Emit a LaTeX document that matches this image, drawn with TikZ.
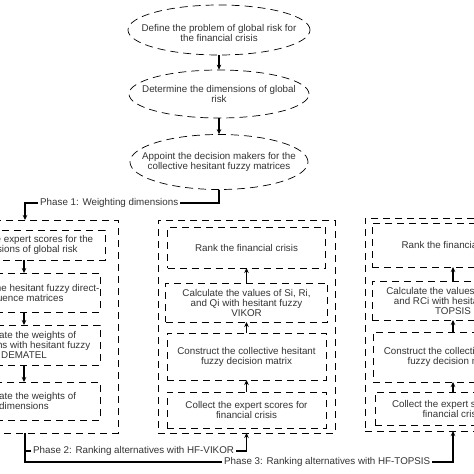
\documentclass[tikz,border=0pt]{standalone}
\usepackage{fontspec}
\setmainfont{Liberation Sans}
\usetikzlibrary{shapes.geometric,arrows.meta,positioning}

\begin{document}
\begin{tikzpicture}[
        x=1pt,y=-1pt,
        font=\fontsize{9.8}{10}\selectfont,
        stage/.style={draw,ellipse,dash pattern=on 8pt off 5pt,line width=0.7pt,inner sep=0pt},
        panel/.style={draw,dash pattern=on 7pt off 5pt,line width=0.8pt,inner sep=0pt,outer sep=0pt},
        box/.style={draw,dash pattern=on 7pt off 5pt,line width=0.7pt,align=center,inner sep=0pt,outer sep=0pt,text=black!80},
        txt/.style={align=center,text=black!80},
        phase/.style={text=black!80,inner sep=2pt,anchor=west},
        arrow/.style={-{Stealth[length=5pt,width=4.5pt]},line width=1.1pt},
        link/.style={line width=1.1pt}
    ]
        \clip (0,0) rectangle (474,474);

        % Stages
        \node[stage,minimum width=182pt,minimum height=50pt] (define) at (219,30) {};
        \node[txt] at ([yshift=-3pt]define.center) {Define the problem of global risk for\\the financial crisis};
        \node[stage,minimum width=180pt,minimum height=48pt] (dims) at (219,94) {};
        \node[txt] at (dims) {Determine the dimensions of global\\risk};
        \node[stage,minimum width=178pt,minimum height=55pt] (appoint) at (219,162) {};
        \node[txt] at (appoint) {Appoint the decision makers for the\\collective hesitant fuzzy matrices};

        \draw[arrow] (define) -- (dims);
        \draw[arrow] (dims) -- (appoint);

        % Phase 1
        \node[panel,minimum width=186pt,minimum height=213pt] (weight) at (25,326.5) {};
        \node[box,minimum width=162pt,minimum height=30pt] (collectL) at (24,245) {Collect the expert scores for the\\dimensions of global risk};
        \node[box,minimum width=152pt,minimum height=39pt] (directL) at (24,292.5) {Construct the hesitant fuzzy direct-\\influence matrices};
        \node[box,minimum width=152pt,minimum height=40pt] (dematel) at (24,345) {Calculate the weights of\\dimensions with hesitant fuzzy\\DEMATEL};
        \node[box,minimum width=152pt,minimum height=38pt] (weightsL) at (24,401) {Calculate the weights of\\dimensions};

        \draw[arrow] (collectL) -- (directL);
        \draw[arrow] (directL) -- (dematel);
        \draw[arrow] (dematel) -- (weightsL);

        % Phase 2
        \node[panel,minimum width=177pt,minimum height=213pt] (vikor) at (246.5,326.5) {};
        \node[box,minimum width=158pt,minimum height=41pt] (rankV) at (246.5,247.5) {Rank the financial crisis};
        \node[box,minimum width=162pt,minimum height=39pt] (valuesV) at (246.5,302.5) {Calculate the values of Si, Ri,\\and Qi with hesitant fuzzy\\VIKOR};
        \node[box,minimum width=159pt,minimum height=47pt] (matrixV) at (246.5,356.5) {Construct the collective hesitant\\fuzzy decision matrix};
        \node[box,minimum width=159pt,minimum height=36pt] (collectV) at (246.5,410) {Collect the expert scores for\\financial crisis};

        \draw[arrow] (collectV) -- (matrixV);
        \draw[arrow] (matrixV) -- (valuesV);
        \draw[arrow] (valuesV) -- (rankV);

        % Phase 3
        \node[panel,minimum width=176pt,minimum height=213pt] (topsis) at (453,324.5) {};
        \node[box,minimum width=162pt,minimum height=44pt] (rankT) at (453,245) {Rank the financial crisis};
        \node[box,minimum width=162pt,minimum height=39pt] (valuesT) at (453,300.5) {Calculate the values of D+, D-,\\and RCi with hesitant fuzzy\\TOPSIS};
        \node[box,minimum width=160pt,minimum height=50pt] (matrixT) at (453,357) {Construct the collective hesitant\\fuzzy decision matrix};
        \node[box,minimum width=156pt,minimum height=33pt] (collectT) at (453,408.5) {Collect the expert scores for\\financial crisis};

        \draw[arrow] (collectT) -- (matrixT);
        \draw[arrow] (matrixT) -- (valuesT);
        \draw[arrow] (valuesT) -- (rankT);

        % Phase labels
        \node[phase] (ph1) at (38,203) {Phase 1: Weighting dimensions};
        \node[phase] (ph2) at (31,451) {Phase 2: Ranking alternatives with HF-VIKOR};
        \node[phase] (ph3) at (222,462) {Phase 3: Ranking alternatives with HF-TOPSIS};

        \draw[link] (appoint) |- (ph1.east);
        \draw[arrow] (ph1.west) -| (weight.north);
        \draw[link] (weight.south) |- (ph3.west);
        \draw[link] (ph2.west) -- (ph2.west -| weight.south);
        \draw[arrow] (ph2.east) -| (vikor.south);
        \draw[arrow] (ph3.east) -| (topsis.south);
    \end{tikzpicture}
\end{document}
